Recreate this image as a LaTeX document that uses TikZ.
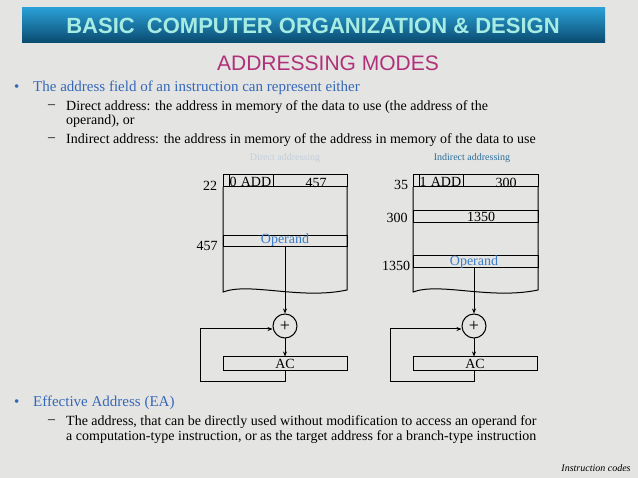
\documentclass[tikz,border=0pt]{standalone}
\usepackage{fontspec}
\setmainfont{Liberation Serif}
\setsansfont{Liberation Sans}
\usetikzlibrary{arrows.meta}
\definecolor{bg}{HTML}{E4E4E2}
\definecolor{txt}{HTML}{3568B8}
\definecolor{barT}{HTML}{2A9FD6}
\definecolor{barB}{HTML}{0A4A6E}
\definecolor{ttl}{HTML}{A6ECE2}
\definecolor{mag}{HTML}{B0307A}
\definecolor{opb}{HTML}{3A7CC8}
\definecolor{ind}{HTML}{2C6F9C}
\tikzset{
  body/.style={anchor=west,text=txt,font=\fontsize{15}{17}\selectfont,inner sep=0},
  sub/.style={anchor=west,text=black,font=\fontsize{14}{15}\selectfont,inner sep=0,align=left},
  lbl/.style={font=\fontsize{14}{14}\selectfont,inner sep=0},
  mem/.style={line width=1pt},
  arr/.style={line width=1pt,-{Stealth[length=5pt,width=4pt]}}
}
\begin{document}
\begin{tikzpicture}[x=1pt,y=-1pt]
\fill[bg] (0,0) rectangle (638,478);
\useasboundingbox (0,0) rectangle (638,478);
\shade[top color=barT,bottom color=barB] (22,8) rectangle (605,43);
\node[text=ttl,font=\sffamily\bfseries\fontsize{22}{22}\selectfont] (hdr) at (313,26) {BASIC\ \ COMPUTER ORGANIZATION \& DESIGN};
\node[text=mag,font=\sffamily\fontsize{21}{21}\selectfont] (sub) at (328,63) {ADDRESSING MODES};
\node[body] (b1d) at (14,88) {•};
\node[body] (b1) at (33,88) {The address field of an instruction can represent either};
\node[sub] (d1) at (48,107) {–};
\node[sub] (d1t) at (66,107) {Direct address: the address in memory of the data to use (the address of the};
\node[sub] (d1u) at (66,121) {operand), or};
\node[sub] (d2) at (48,140) {–};
\node[sub] (d2t) at (66,140) {Indirect address: the address in memory of the address in memory of the data to use};
\node[text=bg!80!opb,font=\fontsize{10}{10}\selectfont] (dirt) at (285,158) {Direct addressing};
\node[text=ind,font=\fontsize{10}{10}\selectfont] (indt) at (472,158) {Indirect addressing};
% left diagram
\draw[mem] (223,175) rectangle (347,187);
\draw[mem] (223,187) -- (223,292) .. controls (250,282) and (300,300) .. (347,290) -- (347,187);
\draw[mem] (229,175) -- (229,187) (273,175) -- (273,187);
\node[lbl] at (233,182) {0};
\node[lbl] at (256,182) {ADD};
\node[lbl] at (316,183) {457};
\draw[mem] (223,236) rectangle (347,247);
\node[lbl,text=opb] (op1) at (285,240) {Operand};
\node[lbl] at (210,186) {22};
\node[lbl] at (207,246) {457};
\node[draw,circle,line width=1pt,minimum size=24pt,inner sep=0,font=\fontsize{18}{18}\selectfont] (p1) at (285,326) {+};
\node[draw,line width=1pt,minimum width=124pt,minimum height=14pt,inner sep=0,font=\fontsize{14}{14}\selectfont] (ac1) at (285,364) {AC};
\coordinate (o1) at (285,247);
\draw[arr] (o1) -- (p1);
\draw[arr] (p1) -- (ac1);
\draw[line width=1pt,-{Stealth[length=5pt,width=4pt]}] (ac1.south) -- (285,382) -- (200,382) -- (200,329) -- (p1.west|-200,329);
% right diagram
\draw[mem] (413,175) rectangle (538,187);
\draw[mem] (413,187) -- (413,292) .. controls (440,282) and (490,300) .. (538,290) -- (538,187);
\draw[mem] (419,175) -- (419,187) (463,175) -- (463,187);
\node[lbl] at (423,182) {1};
\node[lbl] at (446,182) {ADD};
\node[lbl] at (506,183) {300};
\draw[mem] (413,211) rectangle (538,223);
\node[lbl] at (481,217) {1350};
\draw[mem] (413,256) rectangle (538,268);
\node[lbl,text=opb] (op2) at (474,262) {Operand};
\node[lbl] at (401,185) {35};
\node[lbl] at (397,218) {300};
\node[lbl] at (396,266) {1350};
\node[draw,circle,line width=1pt,minimum size=24pt,inner sep=0,font=\fontsize{18}{18}\selectfont] (p2) at (474,326) {+};
\node[draw,line width=1pt,minimum width=124pt,minimum height=14pt,inner sep=0,font=\fontsize{14}{14}\selectfont] (ac2) at (475,364) {AC};
\coordinate (o2) at (474,268);
\draw[arr] (o2) -- (p2);
\draw[arr] (p2) -- (p2|-ac2.north);
\draw[line width=1pt,-{Stealth[length=5pt,width=4pt]}] (p2|-ac2.south) -- (474,382) -- (390,382) -- (390,329) -- (p2.west|-390,329);
% bottom text
\node[body] (b2d) at (14,403) {•};
\node[body] (b2) at (33,403) {Effective Address (EA)};
\node[sub] (d3) at (48,422) {–};
\node[sub] (d3t) at (66,422) {The address, that can be directly used without modification to access an operand for};
\node[sub] (d3u) at (66,437) {a computation-type instruction, or as the target address for a branch-type instruction};
\node[font=\itshape\fontsize{10}{10}\selectfont,text=black] (ic) at (596,468) {Instruction codes};
\end{tikzpicture}
\end{document}
